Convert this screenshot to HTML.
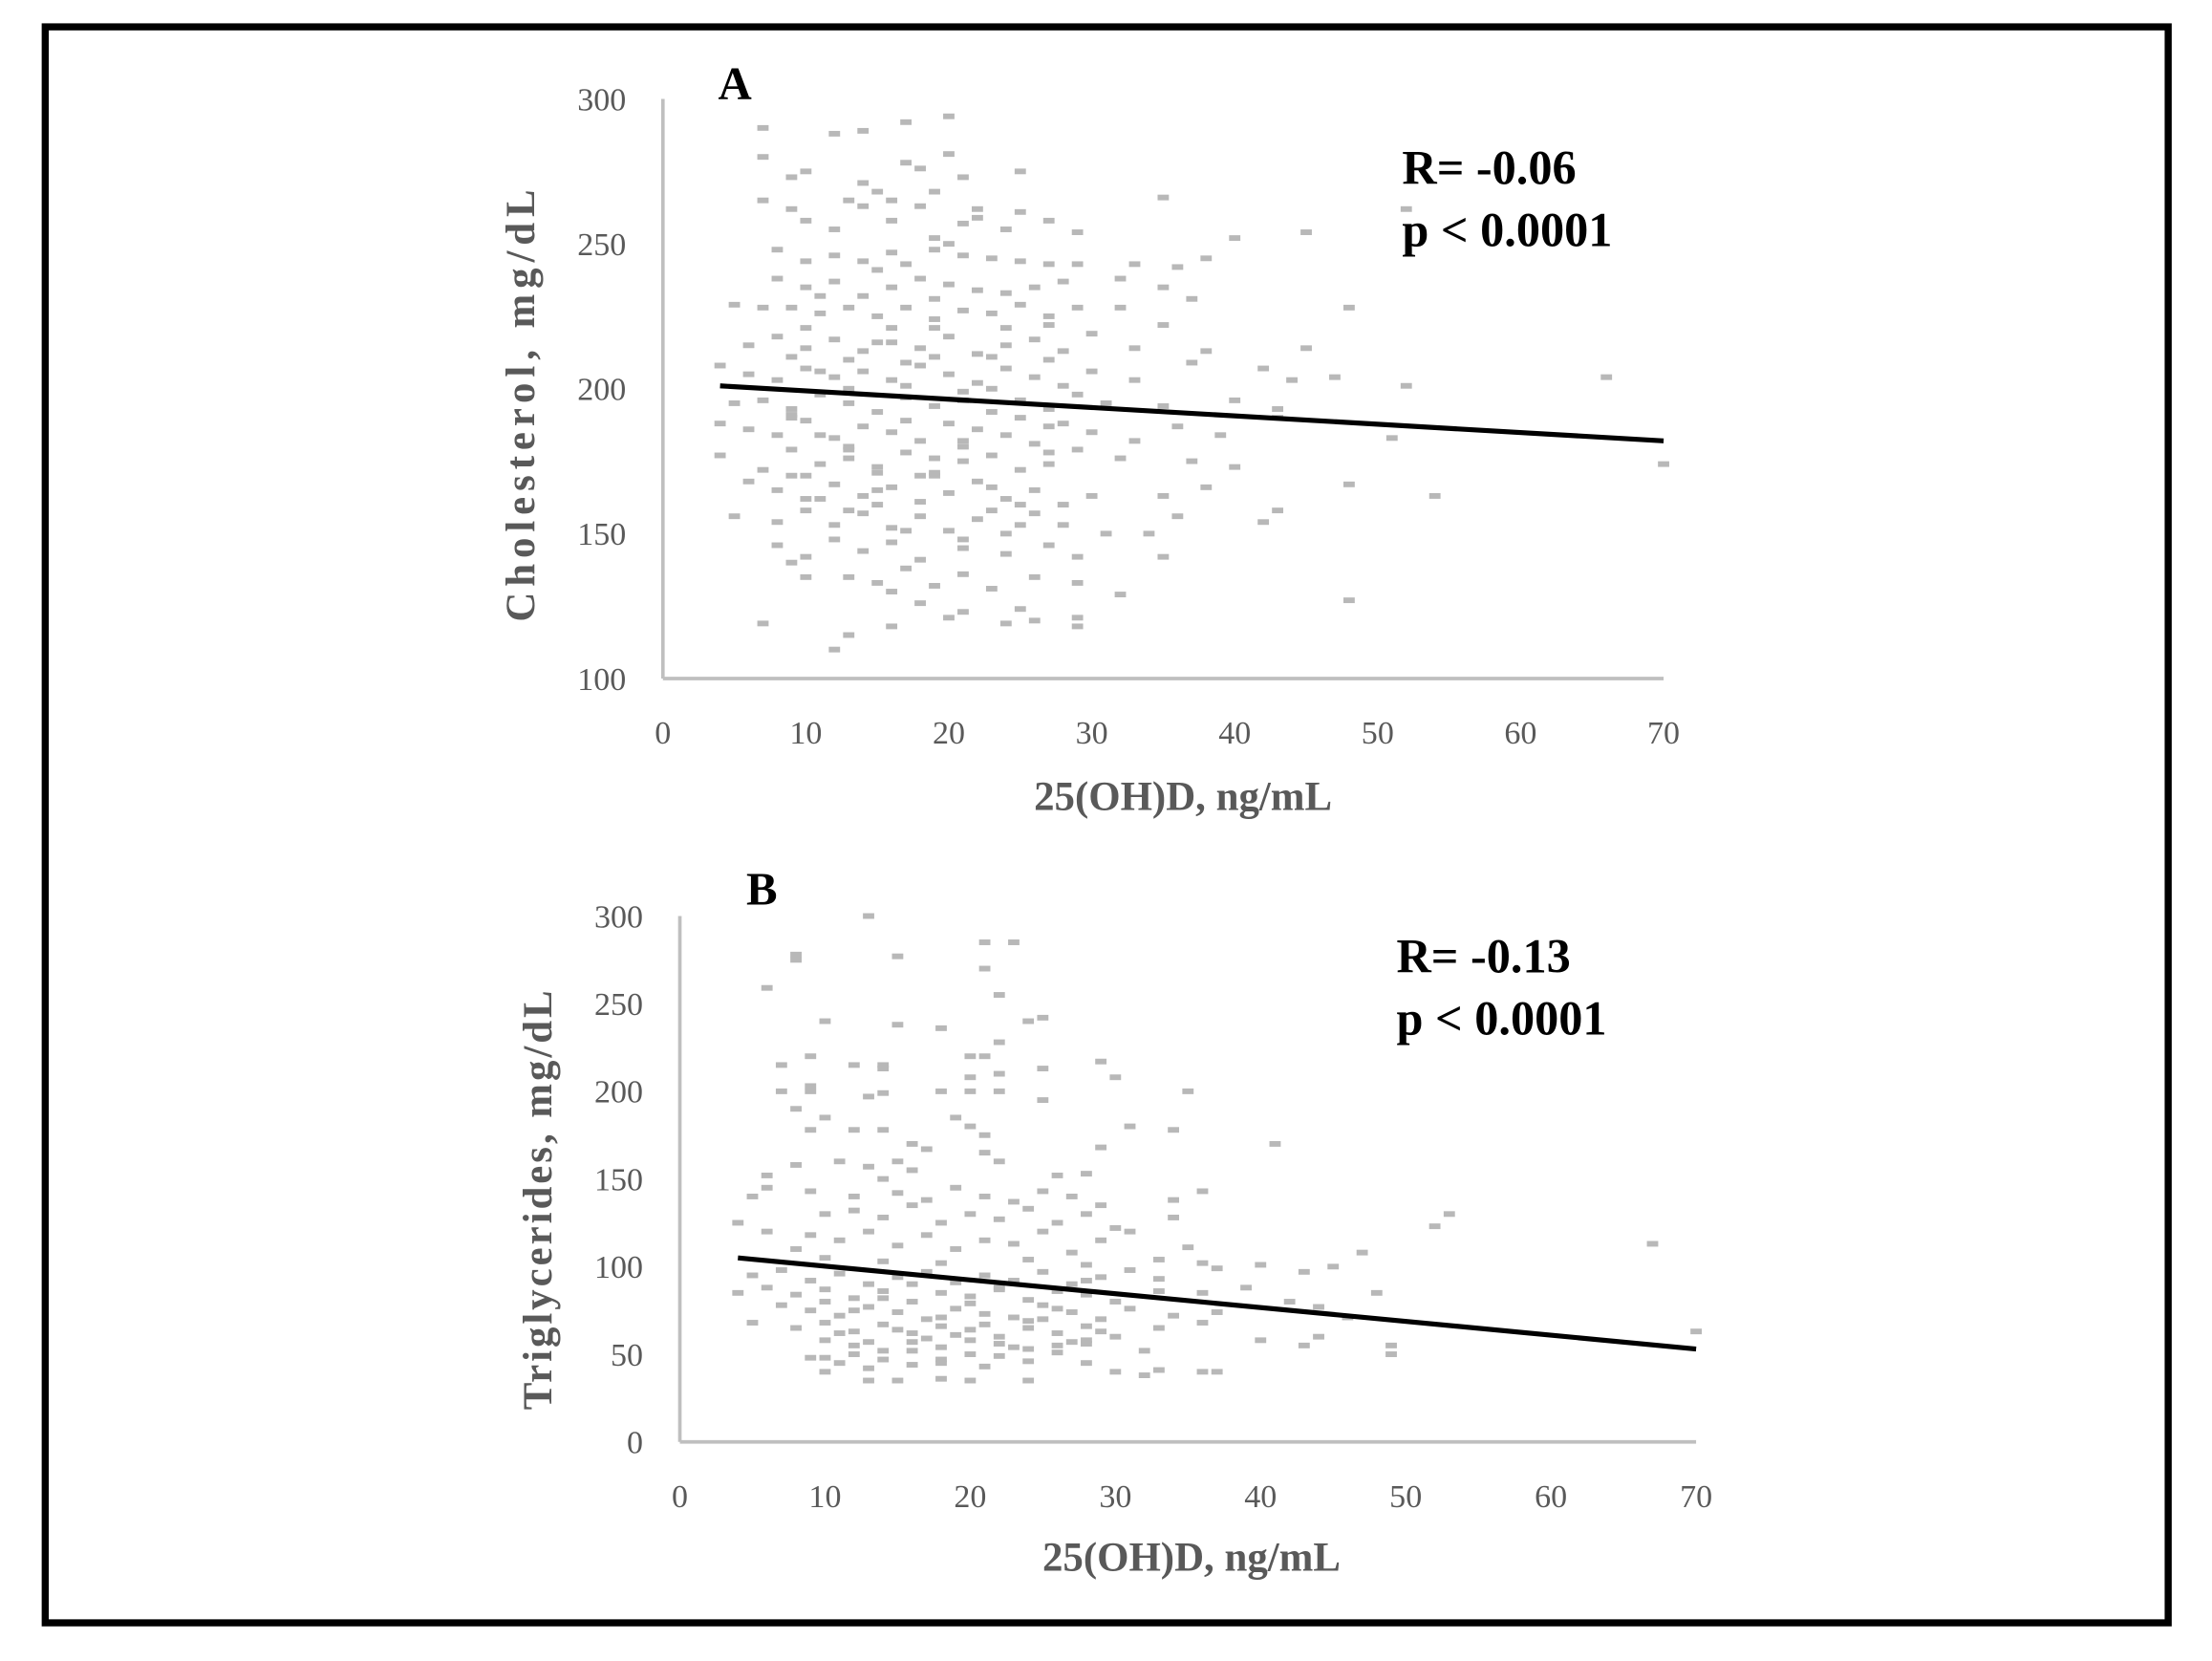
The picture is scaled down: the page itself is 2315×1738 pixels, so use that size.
<!DOCTYPE html>
<html><head><meta charset="utf-8"><style>
html,body{margin:0;padding:0;background:#fff;}
svg{display:block;}
</style></head><body>
<svg id="fig" width="2315" height="1738" viewBox="0 0 1565 1175" preserveAspectRatio="none" xmlns="http://www.w3.org/2000/svg" font-family="'Liberation Serif', serif">
<rect x="32" y="19" width="1502" height="1129" fill="none" stroke="#000" stroke-width="5"/>
<g id="chartA"></g>
<g id="chartB"></g>
</svg>
<script>
// Chart A data: 25(OH)D vs Cholesterol
const aX = [7,12,14,17,20, 7,9,10,17,18,20,21,25,14,15,19, 7,9,13,14,16,22,25,35,52,18,
10,12,16,21,22,24,27,29,40,45,19,20, 8,10,12,14,16,17,19,21,23,25,27,29,33,36,38,15,
8,10,12,14,16,18,20,22,24,26,28,32,35,37,11,19, 5,7,9,11,13,15,17,19,21,23,25,27,29,32,35,48,10,16,24,
6,8,10,12,14,16,18,20,22,24,26,28,30,33,38,45,13,19,27, 4,6,8,10,12,14,16,18,20,22,24,26,28,30,33,37,42,44,47,52,66,17,23,
5,7,9,11,13,15,17,19,21,23,25,27,29,31,35,40,43,9, 4,6,8,10,12,14,16,18,20,22,24,26,28,30,33,36,39,43,51,13,21,
4,7,9,11,13,15,17,19,21,23,25,27,29,32,37,40,70,10,18, 6,8,10,12,14,16,18,20,22,24,26,28,30,35,38,48,54,15,
5,8,10,12,14,16,18,20,22,24,26,28,31,34,36,43,42, 8,10,12,14,16,18,21,24,27,29,35,9,
10,13,15,17,19,21,23,26,29,32,16, 7,13,16,20,21,24,26,29,29,48,12,18,25,
9,11,13,15,17,19,21,23,25,27,9,11,13,15,17,19,21,23,25,27,9,11,13,15,17,19,21,23,25,27];
const aY = [290,288,289,292,294, 280,273,275,278,276,281,273,275,271,268,268, 265,262,265,263,265,262,261,266,262,263,
258,255,258,257,259,255,258,254,252,254,252,250, 248,244,246,244,247,243,248,246,245,244,243,243,243,242,245,241,
238,235,237,232,235,238,236,234,233,235,237,238,235,231,232,231, 229,228,228,226,228,225,228,224,227,226,229,225,228,228,222,228,221,221,221,
215,218,214,217,213,216,214,218,212,215,217,213,219,214,213,214,210,211,210, 208,205,203,207,204,206,203,208,205,202,207,204,201,206,203,209,207,203,204,201,204,209,200,
195,196,193,198,195,192,197,194,199,192,196,193,198,195,194,196,193,191, 188,186,184,189,183,187,185,182,188,186,184,181,188,185,182,187,184,190,183,180,180,
177,172,179,174,176,173,178,171,175,177,172,174,179,176,175,173,174,170,170, 168,165,162,167,163,166,161,164,168,162,165,160,163,163,166,167,163,160,
156,154,158,153,157,152,156,151,155,150,157,153,150,150,156,158,154, 146,142,148,144,147,141,145,143,146,142,142,140,
135,135,133,138,132,136,131,135,133,129,130, 119,115,118,121,123,119,120,121,118,127,110,126,124,
211,206,200,216,201,221,196,211,190,222,190,184,179,171,189,176,182,166,160,187,170,162,158,165,151,170,148,158,153,178];
const aTrendX = [4,70];
const aTrendY = [201,182];
const aYTicks = [100,150,200,250,300];
const aXTicks = [0,10,20,30,40,50,60,70];

// Chart B data: 25(OH)D vs Triglycerides
const bX = [13,8,8,15,21,23,6,21,22,10,15,18,25,24,22,7,9,14,20,21,25,29,30,20,22,12,14,
7,9,9,13,14,18,20,22,25,35,8,10,19,20,21,31,34,9,12,14,16,17,21,29,41,8,11,13,15,16,22,26,28,6,14,
5,6,9,12,15,17,19,21,23,25,27,29,34,36,10,12,14,16,18,20,22,24,26,28,30,34,4,6,9,11,13,15,17,19,21,23,25,27,29,31,8,53,52,67,35,47,33,36,10,14,18,24,28,
5,7,9,11,13,15,17,19,21,23,25,27,29,31,33,37,40,43,4,6,8,10,12,14,16,18,20,22,24,26,28,30,33,36,39,45,48,
7,9,11,13,15,17,19,21,23,25,27,29,31,34,37,42,44,5,8,10,12,14,16,18,20,22,24,26,28,30,33,36,40,46,70,
10,12,14,16,18,20,22,24,26,28,32,43,44,49,49,9,
11,13,16,18,21,10,28,30,33,36,37,13,15,18,20,24,32,
10,12,14,16,18,20,22,24,26,28,11,13,15,17,19,21,23,25,27,29,10,12,14,16,18,20,22,24,26,28];
const bY = [300,278,275,277,285,285,259,270,255,240,238,236,242,240,228,215,220,215,220,220,213,217,208,208,210,215,213,
200,200,203,197,199,200,200,200,195,200,190,185,185,180,175,180,178,178,178,178,170,167,165,168,170,158,160,157,160,155,160,152,153,152,150,
140,145,143,140,142,138,145,140,137,143,140,135,138,143,130,132,128,135,125,130,127,133,125,130,122,128,125,120,118,115,120,112,118,110,115,113,120,108,115,120,110,130,123,113,111,108,104,102,105,103,102,104,101,
95,98,92,96,90,94,97,91,95,92,97,90,94,98,93,99,101,97,85,88,84,87,82,86,80,85,83,88,81,86,84,80,86,85,88,100,85,
78,75,72,77,74,70,76,73,71,78,74,70,76,72,74,80,77,68,65,68,63,67,62,66,64,60,65,62,66,60,65,68,58,71,63,
58,55,52,57,54,50,56,53,55,58,52,55,60,55,50,48,
45,42,44,45,43,40,45,40,41,40,40,35,35,36,35,35,38,
80,75,82,90,71,79,87,69,76,92,62,57,64,59,61,67,54,70,57,63,48,50,47,52,47,58,49,46,51,56];
const bTrendX = [4,70];
const bTrendY = [105,53];
const bYTicks = [0,50,100,150,200,250,300];
const bXTicks = [0,10,20,30,40,50,60,70];

const NS = 'http://www.w3.org/2000/svg';
function mk(tag, attrs, parent, text) {
  const e = document.createElementNS(NS, tag);
  for (const k in attrs) e.setAttribute(k, attrs[k]);
  if (text !== undefined) e.textContent = text;
  parent.appendChild(e);
  return e;
}

function drawChart(g, cfg) {
  const sx = v => cfg.x0 + (v - cfg.xmin) / (cfg.xmax - cfg.xmin) * (cfg.x1 - cfg.x0);
  const sy = v => cfg.y0 - (v - cfg.ymin) / (cfg.ymax - cfg.ymin) * (cfg.y0 - cfg.y1);
  const yAxis = mk('line', {x1: cfg.x0, y1: cfg.y1, x2: cfg.x0, y2: cfg.y0, stroke: '#bfbfbf', 'stroke-width': 2.5}, g);
  
  
  const xAxis = mk('line', {x1: cfg.x0, y1: cfg.y0, x2: cfg.x1, y2: cfg.y0, stroke: '#bfbfbf', 'stroke-width': 2.5}, g);
  
  
  cfg.yTicks.forEach(t => {
    const e = mk('text', {x: cfg.x0 - 26, y: sy(t) + 8, 'text-anchor': 'end', 'font-size': 23, fill: '#595959'}, g, t);
    
    
  });
  cfg.xTicks.forEach(t => {
    const e = mk('text', {x: sx(t), y: cfg.y0 + 46, 'text-anchor': 'middle', 'font-size': 23, fill: '#595959'}, g, t);
    
    
  });
  cfg.xs.forEach((v, i) => {
    const r = mk('rect', {x: sx(v) - 4, y: sy(cfg.ys[i]) - 2, width: 8, height: 4, fill: '#b8b8b8'}, g);
    
    
  });
  const tl = mk('line', {x1: sx(cfg.tx[0]), y1: sy(cfg.ty[0]), x2: sx(cfg.tx[1]), y2: sy(cfg.ty[1]), stroke: '#000', 'stroke-width': 3.5}, g);
  
  
  const xt = mk('text', {x: cfg.xtx, y: cfg.xty, 'text-anchor': 'middle', 'font-size': 29, 'font-weight': 'bold', fill: '#595959'}, g, '25(OH)D, ng/mL');
  
  
  const yt = mk('text', {x: 0, y: 0, 'text-anchor': 'middle', 'font-size': 29, 'font-weight': 'bold', fill: '#595959', 'letter-spacing': cfg.ls, transform: `translate(${cfg.ytx},${cfg.yty}) rotate(-90)`}, g, cfg.yTitle);
  
  
  const pl = mk('text', {x: cfg.lx, y: cfg.ly, 'font-size': 33, 'font-weight': 'bold', fill: '#000'}, g, cfg.label);
  
  
  const r1 = mk('text', {x: cfg.sx, y: cfg.sy, 'font-size': 34, 'font-weight': 'bold', fill: '#000'}, g, cfg.rText);
  
  
  const r2 = mk('text', {x: cfg.sx, y: cfg.sy + 44, 'font-size': 34, 'font-weight': 'bold', fill: '#000'}, g, 'p < 0.0001');
  
  
}

drawChart(document.getElementById('chartA'), {
  x0: 469, x1: 1177, y0: 480, y1: 70, xmin: 0, xmax: 70, ymin: 100, ymax: 300,
  xs: aX, ys: aY, tx: aTrendX, ty: aTrendY, yTicks: aYTicks, xTicks: aXTicks,
  xtx: 837, xty: 573, ytx: 378, yty: 285, yTitle: 'Cholesterol, mg/dL', ls: 4,
  label: 'A', lx: 508, ly: 70, rText: 'R= -0.06', sx: 992, sy: 130
});
drawChart(document.getElementById('chartB'), {
  x0: 481, x1: 1200, y0: 1020, y1: 648, xmin: 0, xmax: 70, ymin: 0, ymax: 300,
  xs: bX, ys: bY, tx: bTrendX, ty: bTrendY, yTicks: bYTicks, xTicks: bXTicks,
  xtx: 843, xty: 1111, ytx: 390, yty: 848, yTitle: 'Triglycerides, mg/dL', ls: 2,
  label: 'B', lx: 528, ly: 640, rText: 'R= -0.13', sx: 988, sy: 688
});
</script>
</body></html>
